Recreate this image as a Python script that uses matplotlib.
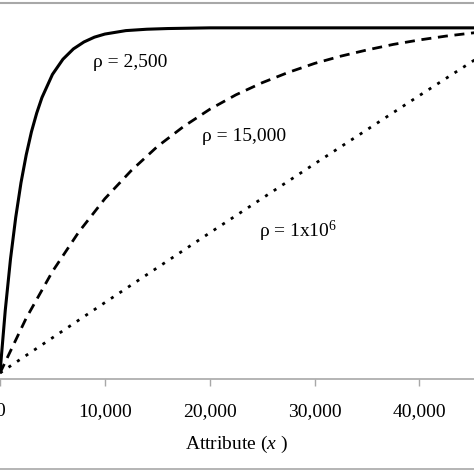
import numpy as np
import matplotlib
matplotlib.use("Agg")
import matplotlib.pyplot as plt
from matplotlib.lines import Line2D

plt.rcParams['font.family'] = ['Liberation Serif', 'DejaVu Serif']
plt.rcParams['mathtext.fontset'] = 'custom'
plt.rcParams['mathtext.rm'] = 'Liberation Serif'
plt.rcParams['mathtext.it'] = 'Liberation Serif:italic'

# values (utility vs attribute)
x_r2500 = [0, 500, 1000, 1500, 2000, 2500, 3000, 3500, 4000, 5000, 6000, 7000,
           8000, 9000, 10000, 12000, 14000, 16000, 20000, 30000, 50000]
u_r2500 = [0, 0.181, 0.330, 0.451, 0.551, 0.632, 0.699, 0.753, 0.798, 0.865, 0.909, 0.939,
           0.959, 0.973, 0.982, 0.992, 0.996, 0.998, 1.0, 1.0, 1.0]

x_r15000 = [0, 2500, 5000, 7500, 10000, 12500, 15000, 17500, 20000, 22500, 25000,
            27500, 30000, 32500, 35000, 37500, 40000, 42500, 45000, 47500, 50000]
u_r15000 = [0, 0.159, 0.294, 0.408, 0.505, 0.586, 0.656, 0.714, 0.764, 0.806, 0.841,
            0.871, 0.897, 0.918, 0.936, 0.952, 0.965, 0.976, 0.985, 0.993, 1.0]

x_r1e6 = [0, 5000, 10000, 15000, 20000, 25000, 30000, 35000, 40000, 45000, 50000]
u_r1e6 = [0, 0.102, 0.204, 0.305, 0.406, 0.506, 0.606, 0.705, 0.804, 0.902, 1.0]

xticks = [0, 10000, 20000, 30000, 40000]
xticklabels = ['0', '10,000', '20,000', '30,000', '40,000']

fig = plt.figure(figsize=(4.74, 4.74), dpi=100)
ax = fig.add_axes([0, 1 - 379 / 474, 1, 376 / 474])

ax.plot(x_r2500, u_r2500, color='black', lw=2.2, solid_capstyle='butt')
ax.plot(x_r15000, u_r15000, color='black', lw=2.0, linestyle=(0, (3.6, 2.4)))
ax.plot(x_r1e6, u_r1e6, color='black', lw=2.0, linestyle=(0, (1.1, 2.6)))

ax.set_xlim(350, 45200)
ax.set_ylim(-0.0174, 1.072)

fs = 14
ax.text(8900, 0.90, 'ρ = 2,500', fontsize=fs, va='center')
ax.text(19300, 0.685, 'ρ = 15,000', fontsize=fs, va='center')
ax.text(24700, 0.41, r'ρ = 1x10$^{6}$', fontsize=fs, va='center')

for s in ['left', 'right']:
    ax.spines[s].set_visible(False)
ax.spines['bottom'].set_color('#a8a8a8')
ax.spines['bottom'].set_linewidth(1.2)
ax.spines['top'].set_color('#a8a8a8')
ax.spines['top'].set_linewidth(1.5)

ax.set_yticks([])
ax.set_xticks(xticks)
ax.set_xticklabels(xticklabels, fontsize=fs)
ax.tick_params(axis='x', direction='out', length=5, width=1, color='#a8a8a8', pad=12)
ax.set_xlabel('Attribute ($x$ )', fontsize=fs, labelpad=10)

fig.add_artist(Line2D([0, 1], [1 - 469 / 474] * 2, color='#a8a8a8', lw=1.2))

fig.savefig('out.png', dpi=100)
